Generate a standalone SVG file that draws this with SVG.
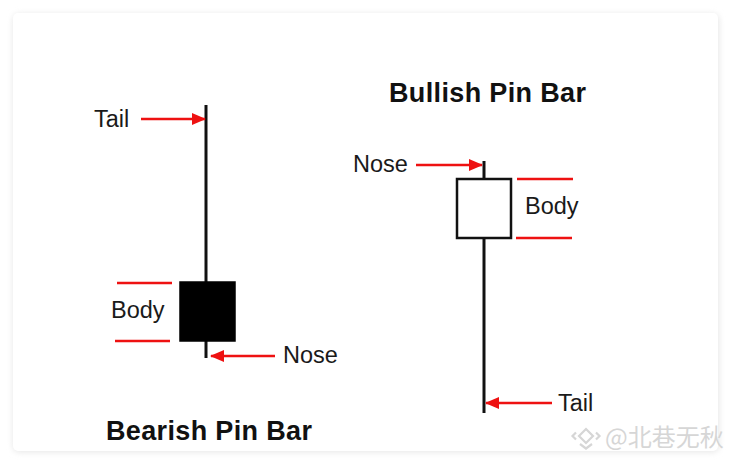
<svg xmlns="http://www.w3.org/2000/svg" width="733" height="466" viewBox="0 0 733 466">
<defs>
<marker id="ah" markerWidth="14" markerHeight="12" refX="13" refY="6" orient="auto" markerUnits="userSpaceOnUse">
<path d="M0,0 L14,6 L0,12 Z" fill="#ee1111"/>
</marker>
<filter id="sh" x="-5%" y="-5%" width="110%" height="110%">
<feGaussianBlur stdDeviation="3"/>
</filter>
</defs>
<style>
.lbl{font-family:"Liberation Sans",Arial,sans-serif;font-size:23.5px;fill:#1a1a1a}
.ttl{font-family:"Liberation Sans",Arial,sans-serif;font-size:27px;font-weight:bold;fill:#111}
.red{stroke:#ee1111;stroke-width:2.5;fill:none}
.wick{stroke:#111;stroke-width:3;fill:none}
.wm{font-family:"Noto Sans CJK SC","Liberation Sans",sans-serif;font-size:24px;fill:#d6d6d6}
</style>
<rect x="0" y="0" width="733" height="466" fill="#ffffff"/>
<rect x="13" y="14" width="706" height="438" rx="6" fill="#e6e6e6" filter="url(#sh)"/>
<rect x="13" y="13" width="705" height="438" rx="5" fill="#ffffff"/>

<g id="bearish">
<line class="wick" x1="206" y1="105" x2="206" y2="358"/>
<rect x="180" y="282" width="55" height="59" fill="#000" stroke="#000" stroke-width="1.5"/>
<text class="ttl" x="106" y="440" textLength="206" lengthAdjust="spacing">Bearish Pin Bar</text>
</g>
<g id="bearish-labels">
<text class="lbl" x="94" y="127">Tail</text>
<line class="red" x1="117" y1="283" x2="172" y2="283"/>
<line class="red" x1="115" y1="341" x2="170" y2="341"/>
<text class="lbl" x="111" y="318">Body</text>
<text class="lbl" x="283" y="363">Nose</text>
</g>

<g id="bullish">
<line class="wick" x1="484" y1="161" x2="484" y2="413"/>
<rect x="457" y="179" width="54" height="59" fill="#fff" stroke="#111" stroke-width="2.5"/>
<text class="ttl" x="389" y="102" textLength="197" lengthAdjust="spacing">Bullish Pin Bar</text>
</g>
<g id="bullish-labels">
<text class="lbl" x="353" y="172">Nose</text>
<line class="red" x1="517" y1="179" x2="573" y2="179"/>
<line class="red" x1="516" y1="238" x2="572" y2="238"/>
<text class="lbl" x="525" y="214">Body</text>
<text class="lbl" x="558" y="411">Tail</text>
</g>

<g id="connectors">
<line class="red" x1="141" y1="119" x2="205" y2="119" marker-end="url(#ah)"/>
<line class="red" x1="275" y1="356" x2="211" y2="356" marker-end="url(#ah)"/>
<line class="red" x1="416" y1="165" x2="482" y2="165" marker-end="url(#ah)"/>
<line class="red" x1="552" y1="403" x2="486" y2="403" marker-end="url(#ah)"/>
</g>

<g id="watermark">
<g fill="none" stroke="#d6d6d6" stroke-width="2.2">
<path d="M586,429 L593,436 L586,443 L579,436 Z"/>
<path d="M576,432.5 L572.5,436 L576,439.5"/>
<path d="M596,432.5 L599.5,436 L596,439.5"/>
<path d="M580,444 L586,448.5 L592,444"/>
</g>
<text class="wm" x="605" y="446">@北巷无秋</text>
</g>
</svg>
